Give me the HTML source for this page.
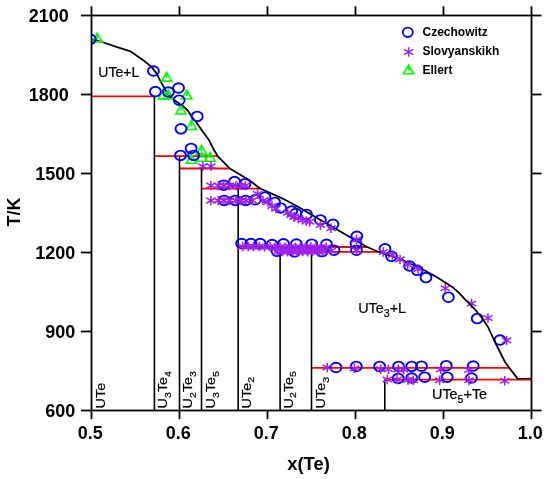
<!DOCTYPE html>
<html><head><meta charset="utf-8"><title>U-Te phase diagram</title>
<style>html,body{margin:0;padding:0;background:#fff}svg{display:block}.ax{font-family:"Liberation Sans",Arial,sans-serif;font-weight:bold;font-size:18px;fill:#000}.lg{font-family:"Liberation Sans",Arial,sans-serif;font-weight:bold;font-size:12px;fill:#000}.ph{font-family:"Liberation Sans",Arial,sans-serif;font-size:14.4px;fill:#000;stroke:#000;stroke-width:0.22px}.sb{font-size:10.6px}</style></head><body>
<svg width="550" height="479" viewBox="0 0 550 479">
<rect width="550" height="479" fill="#fff"/>
<g stroke="#ff0000" stroke-width="1.8" fill="none">
<line x1="91.5" y1="96.4" x2="154.4" y2="96.4"/>
<line x1="154.4" y1="156.2" x2="217.6" y2="156.2"/>
<line x1="179.5" y1="168.5" x2="228.8" y2="168.5"/>
<line x1="201.5" y1="188.6" x2="260.3" y2="188.6"/>
<line x1="238.2" y1="247.0" x2="366.8" y2="247.0"/>
<line x1="280.1" y1="251.8" x2="379.2" y2="251.8"/>
<line x1="311.5" y1="367.9" x2="509.4" y2="367.9"/>
<line x1="384.8" y1="379.6" x2="531.5" y2="379.6"/>
</g>
<g stroke="#000" stroke-width="1.6" fill="none">
<line x1="154.4" y1="96.4" x2="154.4" y2="410.5"/>
<line x1="179.5" y1="156.2" x2="179.5" y2="410.5"/>
<line x1="201.5" y1="168.5" x2="201.5" y2="410.5"/>
<line x1="238.2" y1="188.7" x2="238.2" y2="410.5"/>
<line x1="280.1" y1="251.9" x2="280.1" y2="410.5"/>
<line x1="311.5" y1="251.9" x2="311.5" y2="410.5"/>
<line x1="384.8" y1="379.6" x2="384.8" y2="410.5"/>
</g>
<polyline points="91.5,39.3 98,40.8 103.3,42.5 116.4,46.9 130.5,51.3 143.6,60.5 151.3,66.6 156.7,73.6 160,80.2 161.6,83.2 165.5,90 169.3,96 173.5,99.5 178.4,103 183.1,106.2 187.8,110.5 191.8,116.8 196.25,122.2 202.5,131.3 208.75,139.7 214.2,150.5 217.9,156.3 229.7,168.4 242.3,175.9 249,179.9 254,183.8 258.8,187.6 260.8,188.8 266.4,191.3 282.7,198.6 299,207.2 311.5,214.7 349,236.5 366.6,246.8 379.3,252.2 400,258.8 424.3,270.3 437,277.3" stroke="#000" stroke-width="1.75" fill="none" stroke-linejoin="round"/>
<defs>
<g id="c"><ellipse rx="5.45" ry="4.8" fill="none" stroke="#0000ff" stroke-width="1.9"/></g>
<g id="s" stroke="#a020f0" stroke-width="1.55" fill="none"><path d="M0,-4.7V4.7M-4.6,-2.65L4.6,2.65M-4.6,2.65L4.6,-2.65"/></g>
<g id="t" stroke="#00ff00" stroke-width="1.6" fill="none" stroke-linejoin="miter"><path d="M0,0.9L5.1,9.7H-5.1Z M0,1.7V6.6"/></g>
</defs>
<clipPath id="cp"><rect x="91" y="0" width="460" height="479"/></clipPath>
<g clip-path="url(#cp)">
<use href="#t" x="97.2" y="32.2"/>
<use href="#t" x="166.6" y="71.4"/>
<use href="#t" x="163.5" y="89.2"/>
<use href="#t" x="168.4" y="89.2"/>
<use href="#t" x="186.8" y="89.3"/>
<use href="#t" x="181" y="104.2"/>
<use href="#t" x="191.5" y="119.8"/>
<use href="#t" x="201.5" y="144.5"/>
<use href="#t" x="191.4" y="153.6"/>
<use href="#t" x="201.8" y="151.5"/>
<use href="#t" x="210.2" y="151.5"/>
<use href="#c" x="90.3" y="39.3"/>
<use href="#c" x="153.4" y="71"/>
<use href="#c" x="155.4" y="91.6"/>
<use href="#c" x="168.4" y="92"/>
<use href="#c" x="178.6" y="88"/>
<use href="#c" x="179.2" y="100.2"/>
<use href="#c" x="197.2" y="116.4"/>
<use href="#c" x="181" y="128.8"/>
<use href="#c" x="191.1" y="148.4"/>
<use href="#c" x="180.5" y="155.4"/>
<use href="#c" x="193.6" y="155.4"/>
<use href="#c" x="223.7" y="185.2"/>
<use href="#c" x="234.6" y="181.6"/>
<use href="#c" x="245" y="183.8"/>
<use href="#c" x="224.1" y="200.4"/>
<use href="#c" x="235.3" y="200.4"/>
<use href="#c" x="245.7" y="200.4"/>
<use href="#c" x="255.3" y="199.7"/>
<use href="#c" x="265" y="197.1"/>
<use href="#c" x="274.7" y="202.4"/>
<use href="#c" x="280.6" y="207.9"/>
<use href="#c" x="291.7" y="211"/>
<use href="#c" x="295.8" y="213.5"/>
<use href="#c" x="306.5" y="214.4"/>
<use href="#c" x="320.4" y="219.9"/>
<use href="#c" x="333" y="224.3"/>
<use href="#c" x="241.6" y="243.5"/>
<use href="#c" x="250.9" y="243.5"/>
<use href="#c" x="260.2" y="243.5"/>
<use href="#c" x="272.2" y="244.5"/>
<use href="#c" x="277.1" y="251.3"/>
<use href="#c" x="283.5" y="243.8"/>
<use href="#c" x="296.4" y="244"/>
<use href="#c" x="294.6" y="251.8"/>
<use href="#c" x="311.8" y="244.2"/>
<use href="#c" x="326.5" y="244.3"/>
<use href="#c" x="334" y="250.2"/>
<use href="#c" x="322" y="251.6"/>
<use href="#c" x="356.8" y="236.3"/>
<use href="#c" x="356" y="243.6"/>
<use href="#c" x="356.5" y="250.2"/>
<use href="#c" x="385" y="248.8"/>
<use href="#c" x="391.5" y="256.3"/>
<use href="#c" x="409.6" y="266"/>
<use href="#c" x="417.2" y="270.3"/>
<use href="#c" x="426" y="277.6"/>
<use href="#c" x="448.4" y="297.2"/>
<use href="#c" x="477.2" y="318.6"/>
<use href="#c" x="500" y="340"/>
<use href="#c" x="336" y="367.5"/>
<use href="#c" x="356.3" y="366.4"/>
<use href="#c" x="379.6" y="366.4"/>
<use href="#c" x="398.6" y="366.4"/>
<use href="#c" x="411.7" y="366.4"/>
<use href="#c" x="421.5" y="366.2"/>
<use href="#c" x="446.3" y="365.7"/>
<use href="#c" x="473.2" y="366"/>
<use href="#c" x="398.2" y="378.4"/>
<use href="#c" x="411.7" y="378"/>
<use href="#c" x="424.7" y="377.2"/>
<use href="#c" x="447.2" y="377.2"/>
<use href="#c" x="471.5" y="378"/>
<use href="#s" x="202.8" y="166.2"/>
<use href="#s" x="211" y="166.2"/>
<use href="#s" x="210.9" y="185.6"/>
<use href="#s" x="218.4" y="185.6"/>
<use href="#s" x="223.8" y="185.6"/>
<use href="#s" x="229.5" y="185.6"/>
<use href="#s" x="235.9" y="185.6"/>
<use href="#s" x="241.4" y="185.6"/>
<use href="#s" x="245.5" y="185.6"/>
<use href="#s" x="210.9" y="200.6"/>
<use href="#s" x="218.2" y="200.6"/>
<use href="#s" x="224" y="200.6"/>
<use href="#s" x="229.5" y="200.6"/>
<use href="#s" x="235.9" y="200.6"/>
<use href="#s" x="240.9" y="200.6"/>
<use href="#s" x="245.9" y="200.6"/>
<use href="#s" x="252.3" y="200.4"/>
<use href="#s" x="257.6" y="194"/>
<use href="#s" x="263" y="200.5"/>
<use href="#s" x="268" y="202"/>
<use href="#s" x="272" y="206"/>
<use href="#s" x="276" y="208.6"/>
<use href="#s" x="287.6" y="212.7"/>
<use href="#s" x="291" y="215"/>
<use href="#s" x="294" y="217"/>
<use href="#s" x="298.3" y="218.5"/>
<use href="#s" x="302.4" y="220"/>
<use href="#s" x="306.5" y="221"/>
<use href="#s" x="309.7" y="221.7"/>
<use href="#s" x="320.4" y="225"/>
<use href="#s" x="331" y="228.3"/>
<use href="#s" x="356.5" y="239.5"/>
<use href="#s" x="356.5" y="250.2"/>
<use href="#s" x="383.3" y="252"/>
<use href="#s" x="392.4" y="255"/>
<use href="#s" x="400" y="259.4"/>
<use href="#s" x="407.7" y="264.7"/>
<use href="#s" x="418" y="269"/>
<use href="#s" x="445.3" y="288.2"/>
<use href="#s" x="471.6" y="303.5"/>
<use href="#s" x="488" y="318"/>
<use href="#s" x="506.6" y="340.4"/>
<use href="#s" x="327.3" y="367.5"/>
<use href="#s" x="354.5" y="368.5"/>
<use href="#s" x="380.7" y="369.2"/>
<use href="#s" x="388.4" y="369.2"/>
<use href="#s" x="398.2" y="369.5"/>
<use href="#s" x="403.6" y="369.5"/>
<use href="#s" x="440.7" y="369.4"/>
<use href="#s" x="468.8" y="370"/>
<use href="#s" x="387.3" y="379.5"/>
<use href="#s" x="397" y="379.5"/>
<use href="#s" x="408" y="380"/>
<use href="#s" x="413.2" y="380.2"/>
<use href="#s" x="439.6" y="380.3"/>
<use href="#s" x="469" y="380.3"/>
<use href="#s" x="504.7" y="380.7"/>
<use href="#s" x="242.7" y="246.5"/>
<use href="#s" x="248.2" y="246.8"/>
<use href="#s" x="253.6" y="246.6"/>
<use href="#s" x="259.1" y="246.8"/>
<use href="#s" x="264.5" y="247"/>
<use href="#s" x="270" y="246.8"/>
<use href="#s" x="275" y="247.3"/>
<use href="#s" x="280" y="247"/>
<use href="#s" x="285" y="247.2"/>
<use href="#s" x="290" y="247"/>
<use href="#s" x="295.3" y="247.2"/>
<use href="#s" x="300.4" y="247"/>
<use href="#s" x="305.4" y="247.2"/>
<use href="#s" x="310.8" y="247"/>
<use href="#s" x="316" y="247.2"/>
<use href="#s" x="321" y="247"/>
<use href="#s" x="326.3" y="247.3"/>
<use href="#s" x="277.2" y="251.8"/>
<use href="#s" x="282.5" y="251.6"/>
<use href="#s" x="287.6" y="251.8"/>
<use href="#s" x="292.6" y="251.6"/>
<use href="#s" x="297.6" y="251.8"/>
<use href="#s" x="302.6" y="251.6"/>
<use href="#s" x="307.6" y="251.8"/>
<use href="#s" x="312.6" y="251.6"/>
<use href="#s" x="318" y="251.8"/>
<use href="#s" x="323" y="251.6"/>
<use href="#s" x="331.5" y="250.8"/>
</g>
<polyline points="437,277.3 452.3,286.9 460,293.8 465,299.4 474,308.3 482,318 488,327 494,340 500,352 505,362 509.4,367.9 517.8,378.9 519.5,378.9" stroke="#000" stroke-width="1.75" fill="none" stroke-linejoin="round"/>
<line x1="518" y1="378.9" x2="531.5" y2="378.3" stroke="#000" stroke-width="1.1"/>
<g stroke="#000" stroke-width="1.8" fill="none">
<rect x="91.5" y="15.5" width="440.0" height="395.0"/>
<line x1="91.5" y1="410.5" x2="91.5" y2="419.1"/>
<line x1="91.5" y1="15.5" x2="91.5" y2="6.300000000000001"/>
<line x1="91.5" y1="410.5" x2="80.9" y2="410.5"/>
<line x1="531.5" y1="410.5" x2="541.5" y2="410.5"/>
<line x1="179.5" y1="410.5" x2="179.5" y2="419.1"/>
<line x1="179.5" y1="15.5" x2="179.5" y2="6.300000000000001"/>
<line x1="91.5" y1="331.5" x2="80.9" y2="331.5"/>
<line x1="531.5" y1="331.5" x2="541.5" y2="331.5"/>
<line x1="267.5" y1="410.5" x2="267.5" y2="419.1"/>
<line x1="267.5" y1="15.5" x2="267.5" y2="6.300000000000001"/>
<line x1="91.5" y1="252.5" x2="80.9" y2="252.5"/>
<line x1="531.5" y1="252.5" x2="541.5" y2="252.5"/>
<line x1="355.5" y1="410.5" x2="355.5" y2="419.1"/>
<line x1="355.5" y1="15.5" x2="355.5" y2="6.300000000000001"/>
<line x1="91.5" y1="173.5" x2="80.9" y2="173.5"/>
<line x1="531.5" y1="173.5" x2="541.5" y2="173.5"/>
<line x1="443.5" y1="410.5" x2="443.5" y2="419.1"/>
<line x1="443.5" y1="15.5" x2="443.5" y2="6.300000000000001"/>
<line x1="91.5" y1="94.5" x2="80.9" y2="94.5"/>
<line x1="531.5" y1="94.5" x2="541.5" y2="94.5"/>
<line x1="531.5" y1="410.5" x2="531.5" y2="419.1"/>
<line x1="531.5" y1="15.5" x2="531.5" y2="6.300000000000001"/>
<line x1="91.5" y1="15.5" x2="80.9" y2="15.5"/>
<line x1="531.5" y1="15.5" x2="541.5" y2="15.5"/>
</g>
<text class="ax" x="90.3" y="439.4" text-anchor="middle">0.5</text>
<text class="ax" x="178.3" y="439.4" text-anchor="middle">0.6</text>
<text class="ax" x="266.3" y="439.4" text-anchor="middle">0.7</text>
<text class="ax" x="354.3" y="439.4" text-anchor="middle">0.8</text>
<text class="ax" x="442.3" y="439.4" text-anchor="middle">0.9</text>
<text class="ax" x="530.3" y="439.4" text-anchor="middle">1.0</text>
<text class="ax" x="75.2" y="417.1" text-anchor="end">600</text>
<text class="ax" x="75.2" y="338.1" text-anchor="end">900</text>
<text class="ax" x="75.2" y="259.1" text-anchor="end">1200</text>
<text class="ax" x="75.2" y="180.1" text-anchor="end">1500</text>
<text class="ax" x="68.7" y="101.1" text-anchor="end">1800</text>
<text class="ax" x="68.7" y="22.1" text-anchor="end">2100</text>
<text class="ax" x="308.5" y="469.6" text-anchor="middle" style="font-size:18.4px">x(Te)</text>
<text class="ax" transform="translate(19.5,212) rotate(-90)" text-anchor="middle">T/K</text>
<ellipse cx="407.8" cy="32.3" rx="5" ry="4.7" fill="none" stroke="#0000ff" stroke-width="1.8"/>
<use href="#s" x="408.6" y="52"/>
<use href="#t" x="408.7" y="64.1"/>
<text class="lg" x="422.5" y="36">Czechowitz</text>
<text class="lg" x="422.5" y="55.4">Slovyanskikh</text>
<text class="lg" x="422.5" y="73.8">Ellert</text>
<text class="ph" transform="translate(98.3,76.6) scale(1,0.98)" style="font-size:14.1px">UTe+L</text>
<text class="ph" transform="translate(358.2,312.9) scale(1,0.98)">UTe<tspan class="sb" dy="3.9">3</tspan><tspan dy="-3.9">+L</tspan></text>
<text class="ph" transform="translate(432,398.8) scale(1,0.98)">UTe<tspan class="sb" dy="3.9">5</tspan><tspan dy="-3.9">+Te</tspan></text>
<text class="ph" transform="translate(105,408.4) rotate(-90) scale(1,0.93)">UTe</text>
<text class="ph" transform="translate(167.2,408.4) rotate(-90) scale(1,0.93)">U<tspan class="sb" dy="3.9">3</tspan><tspan dy="-3.9">Te</tspan><tspan class="sb" dy="3.9">4</tspan></text>
<text class="ph" transform="translate(192.2,408.4) rotate(-90) scale(1,0.93)">U<tspan class="sb" dy="3.9">2</tspan><tspan dy="-3.9">Te</tspan><tspan class="sb" dy="3.9">3</tspan></text>
<text class="ph" transform="translate(215.1,408.4) rotate(-90) scale(1,0.93)">U<tspan class="sb" dy="3.9">3</tspan><tspan dy="-3.9">Te</tspan><tspan class="sb" dy="3.9">5</tspan></text>
<text class="ph" transform="translate(250.7,408.4) rotate(-90) scale(1,0.93)">UTe<tspan class="sb" dy="3.9">2</tspan></text>
<text class="ph" transform="translate(292.6,408.4) rotate(-90) scale(1,0.93)">U<tspan class="sb" dy="3.9">2</tspan><tspan dy="-3.9">Te</tspan><tspan class="sb" dy="3.9">5</tspan></text>
<text class="ph" transform="translate(325.3,408.4) rotate(-90) scale(1,0.93)">UTe<tspan class="sb" dy="3.9">3</tspan></text>
</svg></body></html>
